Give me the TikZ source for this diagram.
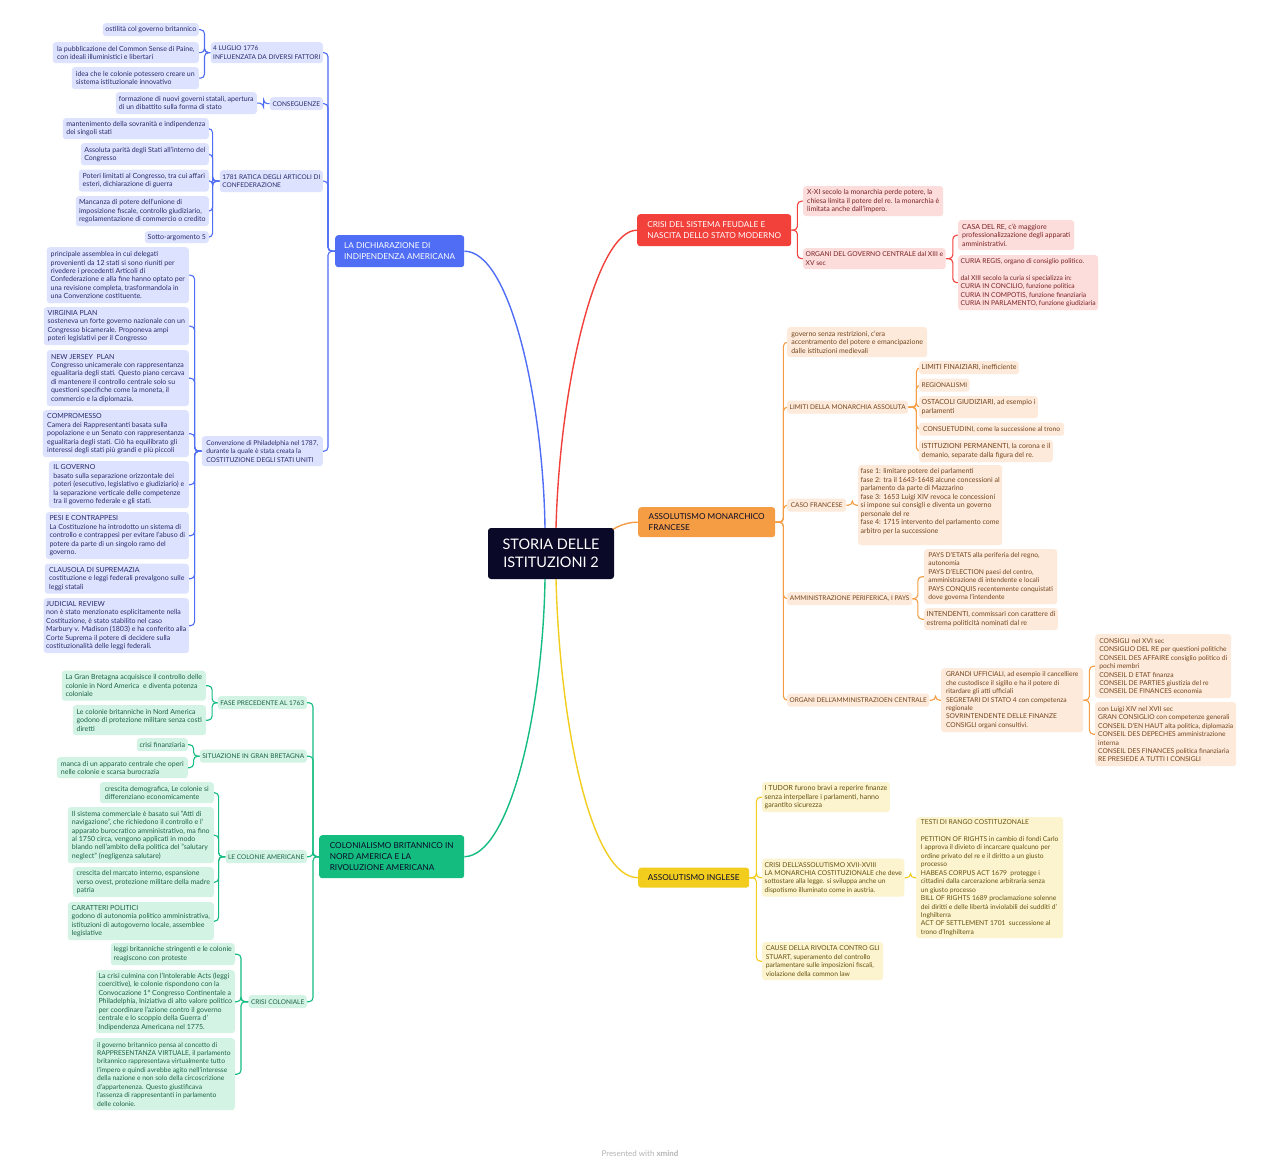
\documentclass[tikz,border=0pt]{standalone}
\usepackage{fontspec}
\setmainfont{Lato}
\usetikzlibrary{calc}
\pgfdeclarelayer{bg}
\pgfsetlayers{bg,main}
\definecolor{bmain}{HTML}{4F6DF5}
\definecolor{bbg}{HTML}{DDE3FF}
\definecolor{btx}{HTML}{272B6B}
\definecolor{rmain}{HTML}{F2403A}
\definecolor{rbg}{HTML}{FDDCDC}
\definecolor{rtx}{HTML}{7A2323}
\definecolor{omain}{HTML}{F59D45}
\definecolor{obg}{HTML}{FDEADB}
\definecolor{otx}{HTML}{74451C}
\definecolor{ymain}{HTML}{F2CD1E}
\definecolor{ybg}{HTML}{FCF3CF}
\definecolor{ytx}{HTML}{66520F}
\definecolor{gmain}{HTML}{14BC80}
\definecolor{gbg}{HTML}{D3F3E5}
\definecolor{gtx}{HTML}{1C6346}
\definecolor{cmain}{HTML}{0A0A28}
\definecolor{credgray}{HTML}{B5B5B5}
\tikzset{
  sub/.style={rounded corners=3pt, inner xsep=2.5pt, inner ysep=2pt, align=left,
    font=\fontsize{7}{8.45}\selectfont},
  cs/.style={font=\fontsize{6.5}{8.45}\selectfont},
  ms/.style={font=\fontsize{6.7}{8.45}\selectfont},
  lsub/.style={sub, anchor=north east},
  rsubp/.style={sub, anchor=north west},
  bsub/.style={lsub, fill=bbg, text=btx},
  gsub/.style={lsub, fill=gbg, text=gtx},
  rsub/.style={rsubp, fill=rbg, text=rtx},
  osub/.style={rsubp, fill=obg, text=otx},
  ysub/.style={rsubp, fill=ybg, text=ytx},
  topic/.style={rounded corners=3pt, inner xsep=8pt, inner ysep=3pt, align=left,
    anchor=north west, font=\fontsize{8.2}{11}\selectfont},
  conn/.style={line width=1.1pt, rounded corners=4pt},
  bl/.style={conn, draw=bmain},
  rl/.style={conn, draw=rmain},
  ol/.style={conn, draw=omain},
  yl/.style={conn, draw=ymain},
  gl/.style={conn, draw=gmain},
  mainc/.style={line width=1.4pt},
}
\begin{document}
\begin{tikzpicture}[x=1pt,y=-1pt]
\useasboundingbox (0,0) rectangle (1280,1166);

% central
\node[rounded corners=3pt, fill=cmain, text=white, align=center, minimum width=126pt, minimum height=51pt,
  font=\fontsize{14.5}{18}\selectfont] (c) at (551,553.5) {STORIA DELLE\\ISTITUZIONI 2};

% ===== BLUE =====
\node[topic, fill=bmain, text=white, minimum width=129pt, minimum height=32pt] (bm) at (335,235)
  {LA DICHIARAZIONE DI\\INDIPENDENZA AMERICANA};
\node[bsub, cs, minimum width=111pt, minimum height=21pt] (b1) at (323,42) {4 LUGLIO 1776\\INFLUENZATA DA DIVERSI FATTORI};
\node[bsub, minimum width=96pt, minimum height=13pt] (b1a) at (199,23) {ostilità col governo britannico};
\node[bsub, minimum width=146pt, minimum height=21pt] (b1b) at (199,42) {la pubblicazione del Common Sense di Paine,\\con ideali illuministici e libertari};
\node[bsub, minimum width=127pt, minimum height=22pt] (b1c) at (199,67) {idea che le colonie potessero creare un\\sistema istituzionale innovativo};
\node[bsub, cs, minimum width=53pt, minimum height=13pt] (b2) at (323,97) {CONSEGUENZE};
\node[bsub, minimum width=141pt, minimum height=22pt] (b2a) at (257,92) {formazione di nuovi governi statali, apertura\\di un dibattito sulla forma di stato};
\node[bsub, cs, minimum width=101pt, minimum height=22pt] (b3) at (323,170) {1781 RATICA DEGLI ARTICOLI DI\\CONFEDERAZIONE};
\node[bsub, minimum width=146pt, minimum height=21pt] (b3a) at (209,118) {mantenimento della sovranità e indipendenza\\dei singoli stati};
\node[bsub, minimum width=128pt, minimum height=22pt] (b3b) at (209,143) {Assoluta parità degli Stati all'interno del\\Congresso};
\node[bsub, minimum width=130pt, minimum height=22pt] (b3c) at (209,169.5) {Poteri limitati al Congresso, tra cui affari\\esteri, dichiarazione di guerra};
\node[bsub, minimum width=133pt, minimum height=30pt] (b3d) at (209,196) {Mancanza di potere dell'unione di\\imposizione fiscale, controllo giudiziario,\\regolamentazione di commercio o credito};
\node[bsub, minimum width=64pt, minimum height=12pt] (b3e) at (209,231) {Sotto-argomento 5};
\node[bsub, ms, minimum width=121pt, minimum height=30pt] (b4) at (323,436) {Convenzione di Philadelphia nel 1787,\\durante la quale è stata creata la\\COSTITUZIONE DEGLI STATI UNITI};
\node[bsub, minimum width=142pt, minimum height=56pt] (b4a) at (189,247) {principale assemblea in cui delegati\\provenienti da 12 stati si sono riuniti per\\rivedere i precedenti Articoli di\\Confederazione e alla fine hanno optato per\\una revisione completa, trasformandola in\\una Convenzione costituente.};
\node[bsub, minimum width=145pt, minimum height=38pt] (b4b) at (189,307) {VIRGINIA PLAN\\sosteneva un forte governo nazionale con un\\Congresso bicamerale. Proponeva ampi\\poteri legislativi per il Congresso};
\node[bsub, minimum width=142pt, minimum height=56pt] (b4c) at (189,350) {NEW JERSEY\ \ PLAN\\Congresso unicamerale con rappresentanza\\egualitaria degli stati. Questo piano cercava\\di mantenere il controllo centrale solo su\\questioni specifiche come la moneta, il\\commercio e la diplomazia.};
\node[bsub, minimum width=146pt, minimum height=47pt] (b4d) at (189,410) {COMPROMESSO\\Camera dei Rappresentanti basata sulla\\popolazione e un Senato con rappresentanza\\egualitaria degli stati. Ciò ha equilibrato gli\\interessi degli stati più grandi e più piccoli};
\node[bsub, minimum width=140pt, minimum height=47pt] (b4e) at (189,461) {IL GOVERNO\\basato sulla separazione orizzontale dei\\poteri (esecutivo, legislativo e giudiziario) e\\la separazione verticale delle competenze\\tra il governo federale e gli stati.};
\node[bsub, minimum width=143pt, minimum height=47pt] (b4f) at (189,512) {PESI E CONTRAPPESI\\La Costituzione ha introdotto un sistema di\\controllo e contrappesi per evitare l'abuso di\\potere da parte di un singolo ramo del\\governo.};
\node[bsub, minimum width=144pt, minimum height=30pt] (b4g) at (189,563.5) {CLAUSOLA DI SUPREMAZIA\\costituzione e leggi federali prevalgono sulle\\leggi statali};
\node[bsub, minimum width=144pt, minimum height=55pt] (b4h) at (189,598) {JUDICIAL REVIEW\\non è stato menzionato esplicitamente nella\\Costituzione, è stato stabilito nel caso\\Marbury v. Madison (1803) e ha conferito alla\\Corte Suprema il potere di decidere sulla\\costituzionalità delle leggi federali.};

% ===== GREEN =====
\node[topic, fill=gmain, text=cmain, minimum width=145pt, minimum height=43pt] (gm) at (319,835)
  {COLONIALISMO BRITANNICO IN\\NORD AMERICA E LA\\RIVOLUZIONE AMERICANA};
\node[gsub, cs, minimum width=89pt, minimum height=13pt] (g1) at (307,696) {FASE PRECEDENTE AL 1763};
\node[gsub, minimum width=144pt, minimum height=30pt] (g1a) at (206,670.5) {La Gran Bretagna acquisisce il controllo delle\\colonie in Nord America\ \ e diventa potenza\\coloniale};
\node[gsub, minimum width=133pt, minimum height=30pt] (g1b) at (206,705) {Le colonie britanniche in Nord America\\godono di protezione militare senza costi\\diretti};
\node[gsub, cs, minimum width=107pt, minimum height=13pt] (g2) at (307,749.5) {SITUAZIONE IN GRAN BRETAGNA};
\node[gsub, minimum width=51pt, minimum height=13pt] (g2a) at (188,738) {crisi finanziaria};
\node[gsub, minimum width=131pt, minimum height=21pt] (g2b) at (188,757) {manca di un apparato centrale che operi\\nelle colonie e scarsa burocrazia};
\node[gsub, cs, minimum width=81pt, minimum height=13pt] (g3) at (307,850) {LE COLONIE AMERICANE};
\node[gsub, minimum width=114pt, minimum height=21pt] (g3a) at (214,782) {crescita demografica, Le colonie si\\differenziano economicamente};
\node[gsub, minimum width=146pt, minimum height=56pt] (g3b) at (214,807) {Il sistema commerciale è basato sui "Atti di\\navigazione", che richiedono il controllo e l'\\apparato burocratico amministrativo, ma fino\\al 1750 circa, vengono applicati in modo\\blando nell'ambito della politica del "salutary\\neglect" (negligenza salutare)};
\node[gsub, minimum width=141pt, minimum height=30pt] (g3c) at (214,867) {crescita del marcato interno, espansione\\verso ovest, protezione militare della madre\\patria};
\node[gsub, minimum width=146pt, minimum height=38pt] (g3d) at (214,902) {CARATTERI POLITICI\\godono di autonomia politico amministrativa,\\istituzioni di autogoverno locale, assemblee\\legislative};
\node[gsub, cs, minimum width=58pt, minimum height=13pt] (g4) at (307,995) {CRISI COLONIALE};
\node[gsub, minimum width=124pt, minimum height=22pt] (g4a) at (235,943) {leggi britanniche stringenti e le colonie\\reagiscono con proteste};
\node[gsub, minimum width=139pt, minimum height=63pt] (g4b) at (235,970) {La crisi culmina con l'Intolerable Acts (leggi\\coercitive), le colonie rispondono con la\\Convocazione 1° Congresso Continentale a\\Philadelphia, Iniziativa di alto valore politico\\per coordinare l'azione contro il governo\\centrale e lo scoppio della Guerra d'\\Indipendenza Americana nel 1775.};
\node[gsub, ms, minimum width=142pt, minimum height=72pt] (g4c) at (235,1038) {il governo britannico pensa al concetto di\\RAPPRESENTANZA VIRTUALE, il parlamento\\britannico rappresentava virtualmente tutto\\l'impero e quindi avrebbe agito nell'interesse\\della nazione e non solo della circoscrizione\\d'appartenenza. Questo giustificava\\l'assenza di rappresentanti in parlamento\\delle colonie.};

% ===== RED =====
\node[topic, fill=rmain, text=white, minimum width=154pt, minimum height=32pt] (rm) at (637,214)
  {CRISI DEL SISTEMA FEUDALE E\\NASCITA DELLO STATO MODERNO};
\node[rsub, minimum width=140pt, minimum height=30pt] (r1) at (803,186) {X-XI secolo la monarchia perde potere, la\\chiesa limita il potere del re. la monarchia è\\limitata anche dall'impero.};
\node[rsub, ms, minimum width=142pt, minimum height=21pt] (r2) at (803,248) {ORGANI DEL GOVERNO CENTRALE dal XIII e\\XV sec};
\node[rsub, minimum width=116pt, minimum height=30pt] (r2a) at (958,220) {CASA DEL RE, c'è maggiore\\professionalizzazione degli apparati\\amministrativi.};
\node[rsub, ms, minimum width=140pt, minimum height=55pt] (r2b) at (958,255) {CURIA REGIS, organo di consiglio politico.\\ ~\\dal XIII secolo la curia si specializza in:\\CURIA IN CONCILIO, funzione politica\\CURIA IN COMPOTIS, funzione finanziaria\\CURIA IN PARLAMENTO, funzione giudiziaria};

% ===== ORANGE =====
\node[topic, fill=omain, text=cmain, minimum width=137pt, minimum height=30pt] (om) at (638,507)
  {ASSOLUTISMO MONARCHICO\\FRANCESE};
\node[osub, minimum width=140pt, minimum height=30pt] (o1) at (787,327) {governo senza restrizioni, c'era\\accentramento del potere e emancipazione\\dalle istituzioni medievali};
\node[osub, cs, minimum width=120pt, minimum height=13pt] (o2) at (787,400.5) {LIMITI DELLA MONARCHIA ASSOLUTA};
\node[osub, minimum width=95pt, minimum height=13pt] (o2a) at (919,361) {LIMITI FINAIZIARI, inefficiente};
\node[osub, cs, minimum width=50pt, minimum height=13pt] (o2b) at (919,378.5) {REGIONALISMI};
\node[osub, minimum width=116pt, minimum height=22pt] (o2c) at (919,396) {OSTACOLI GIUDIZIARI, ad esempio i\\parlamenti};
\node[osub, ms, minimum width=145pt, minimum height=13pt] (o2d) at (919,422.5) {CONSUETUDINI, come la successione al trono};
\node[osub, minimum width=129pt, minimum height=22pt] (o2e) at (919,440) {ISTITUZIONI PERMANENTI, la corona e il\\demanio, separate dalla figura del re.};
\node[osub, cs, minimum width=59pt, minimum height=13pt] (o3) at (787,498.5) {CASO FRANCESE};
\node[osub, minimum width=144pt, minimum height=80pt] (o3a) at (858,465) {fase 1: limitare potere dei parlamenti\\fase 2: tra il 1643-1648 alcune concessioni al\\parlamento da parte di Mazzarino\\fase 3: 1653 Luigi XIV revoca le concessioni\\si impone sui consigli e diventa un governo\\personale del re\\fase 4: 1715 intervento del parlamento come\\arbitro per la successione\\ ~};
\node[osub, cs, minimum width=125pt, minimum height=13pt] (o4) at (787,592) {AMMINISTRAZIONE PERIFERICA, I PAYS};
\node[osub, ms, minimum width=133pt, minimum height=55pt] (o4a) at (924,549) {PAYS D'ETATS alla periferia del regno,\\autonomia\\PAYS D'ELECTION paesi del centro,\\amministrazione di intendente e locali\\PAYS CONQUIS recentemente conquistati\\dove governa l'intendente};
\node[osub, minimum width=132pt, minimum height=22pt] (o4b) at (924,608) {INTENDENTI, commissari con carattere di\\estrema politicità nominati dal re};
\node[osub, cs, minimum width=142pt, minimum height=13pt] (o5) at (787,693.5) {ORGANI DELL'AMMINISTRAZIOEN CENTRALE};
\node[osub, ms, minimum width=142pt, minimum height=64pt] (o5a) at (941,668) {GRANDI UFFICIALI, ad esempio il cancelliere\\che custodisce il sigillo e ha il potere di\\ritardare gli atti ufficiali\\SEGRETARI DI STATO 4 con competenza\\regionale\\SOVRINTENDENTE DELLE FINANZE\\CONSIGLI organi consultivi.};
\node[osub, ms, minimum width=136pt, minimum height=64pt] (o5b) at (1095,634) {CONSIGLI nel XVI sec\\CONSIGLIO DEL RE per questioni politiche\\CONSEIL DES AFFAIRE consiglio politico di\\pochi membri\\CONSEIL D ETAT finanza\\CONSEIL DE PARTIES giustizia del re\\CONSEIL DE FINANCES economia};
\node[osub, ms, minimum width=141pt, minimum height=64pt] (o5c) at (1095,702) {con Luigi XIV nel XVII sec\\GRAN CONSIGLIO con competenze generali\\CONSEIL D'EN HAUT alta politica, diplomazia\\CONSEIL DES DEPECHES amministrazione\\interna\\CONSEIL DES FINANCES politica finanziaria\\RE PRESIEDE A TUTTI I CONSIGLI};

% ===== YELLOW =====
\node[topic, fill=ymain, text=cmain, minimum width=111pt, minimum height=20pt] (ym) at (638,867.5)
  {ASSOLUTISMO INGLESE};
\node[ysub, minimum width=127pt, minimum height=30pt] (y1) at (762,782) {I TUDOR furono bravi a reperire finanze\\senza interpellare i parlamenti, hanno\\garantito sicurezza};
\node[ysub, ms, minimum width=141pt, minimum height=38pt] (y2) at (762,858.5) {CRISI DELL'ASSOLUTISMO XVII-XVIII\\LA MONARCHIA COSTITUZIONALE che deve\\sottostare alla legge. si sviluppa anche un\\dispotismo illuminato come in austria.};
\node[ysub, ms, minimum width=147pt, minimum height=121pt] (y2a) at (916,817) {TESTI DI RANGO COSTITUZONALE\\ ~\\PETITION OF RIGHTS in cambio di fondi Carlo\\I approva il divieto di incarcare qualcuno per\\ordine privato del re e il diritto a un giusto\\processo\\HABEAS CORPUS ACT 1679\ \ protegge i\\cittadini dalla carcerazione arbitraria senza\\un giusto processo\\BILL OF RIGHTS 1689 proclamazione solenne\\dei diritti e delle libertà inviolabili dei sudditi d'\\Inghilterra\\ACT OF SETTLEMENT 1701\ \ successione al\\trono d'Inghilterra};
\node[ysub, ms, minimum width=121pt, minimum height=38pt] (y3) at (762,942) {CAUSE DELLA RIVOLTA CONTRO GLI\\STUART, superamento del controllo\\parlamentare sulle imposizioni fiscali,\\violazione della common law};

\node[text=credgray, font=\fontsize{8}{10}\selectfont] (credit) at (640,1154) {Presented with \textbf{xmind}};

\begin{pgfonlayer}{bg}
\fill[white] (0,0) rectangle (1280,1166);
% main curves
\draw[mainc, draw=bmain] ($(c.north)+(-6,0)$) .. controls (543,400) and (510,251) .. (bm.east);
\draw[mainc, draw=rmain] ($(c.north)+(5,0)$) .. controls (560,380) and (597,230) .. (rm.west);
\draw[mainc, draw=omain] (c.center) .. controls (600,553) and (605,522) .. (om.west);
\draw[mainc, draw=ymain] ($(c.south)+(5,0)$) .. controls (560,730) and (592,878) .. (ym.west);
\draw[mainc, draw=gmain] ($(c.south)+(-6,0)$) .. controls (543,710) and (510,856) .. (gm.east);
% blue tree
\foreach \k in {b1,b2,b3,b4} \draw[bl] (bm.west) -- ++(-7,0) |- (\k.east);
\foreach \k in {b1a,b1b,b1c} \draw[bl] (b1.west) -- ++(-6,0) |- (\k.east);
\draw[bl] (b2.west) -- ++(-6,0) |- (b2a.east);
\foreach \k in {b3a,b3b,b3c,b3d,b3e} \draw[bl] (b3.west) -- ++(-7,0) |- (\k.east);
\foreach \k in {b4a,b4b,b4c,b4d,b4e,b4f,b4g,b4h} \draw[bl] (b4.west) -- ++(-7,0) |- (\k.east);
% green tree
\foreach \k in {g1,g2,g3,g4} \draw[gl] (gm.west) -- ++(-6,0) |- (\k.east);
\foreach \k in {g1a,g1b} \draw[gl] (g1.west) -- ++(-5.5,0) |- (\k.east);
\foreach \k in {g2a,g2b} \draw[gl] (g2.west) -- ++(-6,0) |- (\k.east);
\foreach \k in {g3a,g3b,g3c,g3d} \draw[gl] (g3.west) -- ++(-6.7,0) |- (\k.east);
\foreach \k in {g4a,g4b,g4c} \draw[gl] (g4.west) -- ++(-7.3,0) |- (\k.east);
% red tree
\foreach \k in {r1,r2} \draw[rl] (rm.east) -- ++(6,0) |- (\k.west);
\foreach \k in {r2a,r2b} \draw[rl] (r2.east) -- ++(7,0) |- (\k.west);
% orange tree
\foreach \k in {o1,o2,o3,o4,o5} \draw[ol] (om.east) -- ++(8,0) |- (\k.west);
\foreach \k in {o2a,o2b,o2c,o2d,o2e} \draw[ol] (o2.east) -- ++(8,0) |- (\k.west);
\draw[ol] (o3.east) -- ++(6,0) |- (o3a.west);
\foreach \k in {o4a,o4b} \draw[ol] (o4.east) -- ++(5.5,0) |- (\k.west);
\draw[ol] (o5.east) -- ++(6,0) |- (o5a.west);
\foreach \k in {o5b,o5c} \draw[ol] (o5a.east) -- ++(6,0) |- (\k.west);
% yellow tree
\foreach \k in {y1,y2,y3} \draw[yl] (ym.east) -- ++(7,0) |- (\k.west);
\draw[yl] (y2.east) -- ++(6,0) |- (y2a.west);
\end{pgfonlayer}
\end{tikzpicture}
\end{document}
